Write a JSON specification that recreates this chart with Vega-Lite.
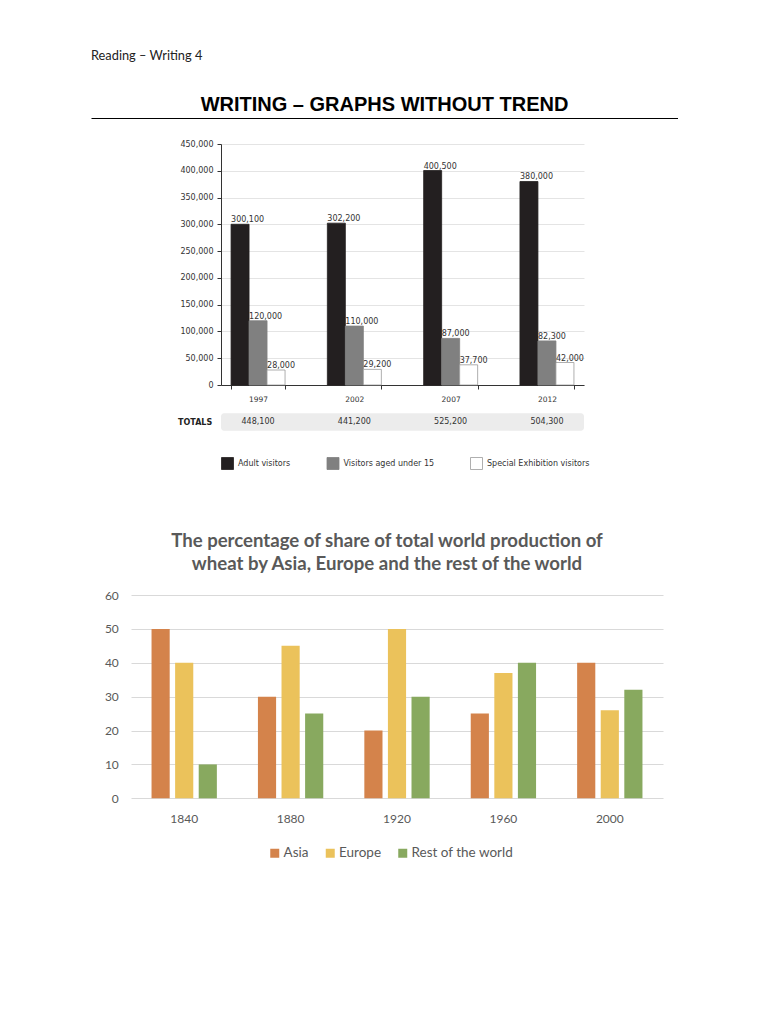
{
  "$schema": "https://vega.github.io/schema/vega-lite/v6.json",
  "background": "#ffffff",
  "padding": {"left": 91, "top": 50, "right": 0, "bottom": 0},
  "title": {"text": "Reading – Writing 4", "anchor": "start", "font": "Lato", "fontSize": 12.8, "fontWeight": "normal", "color": "#222222", "offset": 32},
  "config": {"view": {"stroke": null}},
  "spacing": 0,
  "resolve": {
    "scale": {"fill": "independent", "stroke": "independent", "color": "independent", "xOffset": "independent"},
    "legend": {"fill": "independent", "stroke": "independent", "color": "independent"}
  },
  "datasets": {
    "visitors": [
      {"year": "1997", "series": "Adult visitors", "value": 300100},
      {"year": "1997", "series": "Visitors aged under 15", "value": 120000},
      {"year": "1997", "series": "Special Exhibition visitors", "value": 28000},
      {"year": "2002", "series": "Adult visitors", "value": 302200},
      {"year": "2002", "series": "Visitors aged under 15", "value": 110000},
      {"year": "2002", "series": "Special Exhibition visitors", "value": 29200},
      {"year": "2007", "series": "Adult visitors", "value": 400500},
      {"year": "2007", "series": "Visitors aged under 15", "value": 87000},
      {"year": "2007", "series": "Special Exhibition visitors", "value": 37700},
      {"year": "2012", "series": "Adult visitors", "value": 380000},
      {"year": "2012", "series": "Visitors aged under 15", "value": 82300},
      {"year": "2012", "series": "Special Exhibition visitors", "value": 42000}
    ],
    "totals": [
      {"year": "1997", "row": "TOTALS", "total": 448100},
      {"year": "2002", "row": "TOTALS", "total": 441200},
      {"year": "2007", "row": "TOTALS", "total": 525200},
      {"year": "2012", "row": "TOTALS", "total": 504300}
    ],
    "wheat": [
      {"year": "1840", "region": "Asia", "share": 50},
      {"year": "1840", "region": "Europe", "share": 40},
      {"year": "1840", "region": "Rest of the world", "share": 10},
      {"year": "1880", "region": "Asia", "share": 30},
      {"year": "1880", "region": "Europe", "share": 45},
      {"year": "1880", "region": "Rest of the world", "share": 25},
      {"year": "1920", "region": "Asia", "share": 20},
      {"year": "1920", "region": "Europe", "share": 50},
      {"year": "1920", "region": "Rest of the world", "share": 30},
      {"year": "1960", "region": "Asia", "share": 25},
      {"year": "1960", "region": "Europe", "share": 37},
      {"year": "1960", "region": "Rest of the world", "share": 40},
      {"year": "2000", "region": "Asia", "share": 40},
      {"year": "2000", "region": "Europe", "share": 26},
      {"year": "2000", "region": "Rest of the world", "share": 32}
    ]
  },
  "vconcat": [
    {
      "width": 587,
      "height": 1,
      "data": {"values": []},
      "title": {"text": "WRITING – GRAPHS WITHOUT TREND", "anchor": "middle", "font": "Liberation Sans", "fontSize": 20, "fontWeight": "bold", "color": "#000000", "offset": 2},
      "mark": {"type": "rule"},
      "encoding": {
        "x": {"field": "a", "type": "quantitative", "scale": {"domain": [0, 1]},
          "axis": {"title": null, "labels": false, "ticks": false, "grid": false, "domain": true, "domainColor": "#000000", "domainWidth": 1, "minExtent": 22, "maxExtent": 22}}
      }
    },
    {
      "spacing": 0,
      "resolve": {
        "scale": {"fill": "independent", "stroke": "independent", "xOffset": "independent"},
        "legend": {"fill": "independent", "stroke": "independent"}
      },
      "hconcat": [
        {
          "width": 85,
          "height": 1,
          "data": {"values": []},
          "mark": {"type": "point"},
          "encoding": {}
        },
        {
          "spacing": 8.3,
          "resolve": {
            "scale": {"fill": "shared", "stroke": "shared", "xOffset": "independent"},
            "legend": {"fill": "shared", "stroke": "shared"}
          },
          "vconcat": [
            {
              "width": 363,
              "height": 241,
              "data": {"name": "visitors"},
              "encoding": {
                "x": {"field": "year", "type": "nominal", "title": null,
                  "scale": {"type": "band", "paddingInner": 0.4393, "paddingOuter": 0.1044},
                  "axis": {"labelAngle": 0, "labelFont": "DejaVu Sans", "labelFontSize": 7.5, "labelColor": "#333333", "tickBand": "extent", "tickOffset": -21.3, "tickSize": 4, "tickColor": "#333333", "domainColor": "#333333", "labelPadding": 6, "minExtent": 20, "maxExtent": 20}},
                "xOffset": {"field": "series", "type": "nominal", "sort": ["Adult visitors", "Visitors aged under 15", "Special Exhibition visitors"], "scale": {"type": "band", "paddingInner": 0, "paddingOuter": 0}},
                "y": {"field": "value", "type": "quantitative", "title": null,
                  "scale": {"domain": [0, 450000], "nice": false},
                  "axis": {"values": [0, 50000, 100000, 150000, 200000, 250000, 300000, 350000, 400000, 450000], "labelExpr": "format(datum.value, ',')", "labelFont": "DejaVu Sans", "labelFontSize": 8, "labelColor": "#333333", "tickSize": 4, "tickColor": "#333333", "domainColor": "#333333", "labelPadding": 4, "gridColor": "#e4e4e4", "minExtent": 45, "maxExtent": 45}}
              },
              "layer": [
                {
                  "mark": {"type": "bar", "strokeWidth": 0.8},
                  "encoding": {
                    "fill": {"field": "series", "type": "nominal",
                      "scale": {"domain": ["Adult visitors", "Visitors aged under 15", "Special Exhibition visitors"], "range": ["#231f20", "#808080", "#ffffff"]},
                      "legend": {"orient": "none", "legendX": 0, "legendY": 313, "direction": "horizontal", "gridAlign": "none", "title": null, "symbolType": "square", "symbolSize": 144, "symbolStrokeWidth": 0.8, "labelFont": "DejaVu Sans", "labelFontSize": 8, "labelColor": "#333333", "labelOffset": 4, "columnPadding": 33.5, "padding": 0}},
                    "stroke": {"field": "series", "type": "nominal",
                      "scale": {"domain": ["Adult visitors", "Visitors aged under 15", "Special Exhibition visitors"], "range": ["#231f20", "#808080", "#9a9a9a"]},
                      "legend": {"orient": "none", "legendX": 0, "legendY": 313, "direction": "horizontal", "gridAlign": "none", "title": null, "symbolType": "square", "symbolSize": 144, "symbolStrokeWidth": 0.8, "labelFont": "DejaVu Sans", "labelFontSize": 8, "labelColor": "#333333", "labelOffset": 4, "columnPadding": 33.5, "padding": 0}}
                  }
                },
                {
                  "mark": {"type": "text", "align": "left", "baseline": "alphabetic", "dx": -9, "dy": -2, "font": "DejaVu Sans", "fontSize": 8, "color": "#333333"},
                  "encoding": {"text": {"field": "value", "type": "quantitative", "format": ","}}
                }
              ]
            },
            {
              "width": 363,
              "height": 17.4,
              "data": {"name": "totals"},
              "view": {"fill": "#ececec", "cornerRadius": 3, "stroke": null},
              "mark": {"type": "text", "font": "DejaVu Sans", "fontSize": 8, "color": "#333333", "baseline": "middle"},
              "encoding": {
                "x": {"field": "year", "type": "nominal", "title": null, "scale": {"type": "point", "padding": 0.385},
                  "axis": {"labels": false, "ticks": false, "domain": false, "grid": false, "minExtent": 99.7, "maxExtent": 99.7}},
                "y": {"field": "row", "type": "nominal", "title": null,
                  "axis": {"domain": false, "ticks": false, "grid": false, "labelFont": "DejaVu Sans", "labelFontSize": 8, "labelFontWeight": "bold", "labelColor": "#222222", "labelPadding": 9.3, "minExtent": 45, "maxExtent": 45}},
                "text": {"field": "total", "type": "quantitative", "format": ","}
              }
            }
          ]
        }
      ]
    },
    {
      "spacing": 0,
      "resolve": {
        "scale": {"color": "independent", "xOffset": "independent"},
        "legend": {"color": "independent"}
      },
      "hconcat": [
        {
          "width": 9.7,
          "height": 1,
          "data": {"values": []},
          "mark": {"type": "point"},
          "encoding": {}
        },
        {
          "width": 532,
          "height": 203.3,
          "data": {"name": "wheat"},
          "title": {"text": ["The percentage of share of total world production of", "wheat by Asia, Europe and the rest of the world"], "font": "Lato", "fontSize": 18.6, "fontWeight": "bold", "color": "#595959", "anchor": "middle", "dx": -10, "lineHeight": 23, "offset": 15.7},
          "mark": {"type": "bar"},
          "encoding": {
            "x": {"field": "year", "type": "nominal", "title": null,
              "scale": {"type": "band", "paddingInner": 0.386, "paddingOuter": 0.193},
              "axis": {"labelAngle": 0, "labelFont": "Lato", "labelFontSize": 12, "labelColor": "#595959", "ticks": false, "domain": false, "labelPadding": 15}},
            "xOffset": {"field": "region", "type": "nominal", "sort": ["Asia", "Europe", "Rest of the world"], "scale": {"type": "band", "paddingInner": 0.23, "paddingOuter": 0}},
            "y": {"field": "share", "type": "quantitative", "title": null,
              "scale": {"domain": [0, 60], "nice": false},
              "axis": {"values": [0, 10, 20, 30, 40, 50, 60], "labelFont": "Lato", "labelFontSize": 12, "labelColor": "#595959", "ticks": false, "domain": false, "labelPadding": 12.7, "gridColor": "#d9d9d9", "minExtent": 30, "maxExtent": 30}},
            "color": {"field": "region", "type": "nominal",
              "scale": {"domain": ["Asia", "Europe", "Rest of the world"], "range": ["#d4834b", "#ebc25b", "#88a95f"]},
              "legend": {"orient": "none", "legendX": 137, "legendY": 251.5, "direction": "horizontal", "gridAlign": "none", "title": null, "symbolType": "square", "symbolSize": 81, "labelFont": "Lato", "labelFontSize": 13.5, "labelColor": "#595959", "labelOffset": 2, "columnPadding": 14.5, "padding": 0}}
          }
        }
      ]
    }
  ]
}
